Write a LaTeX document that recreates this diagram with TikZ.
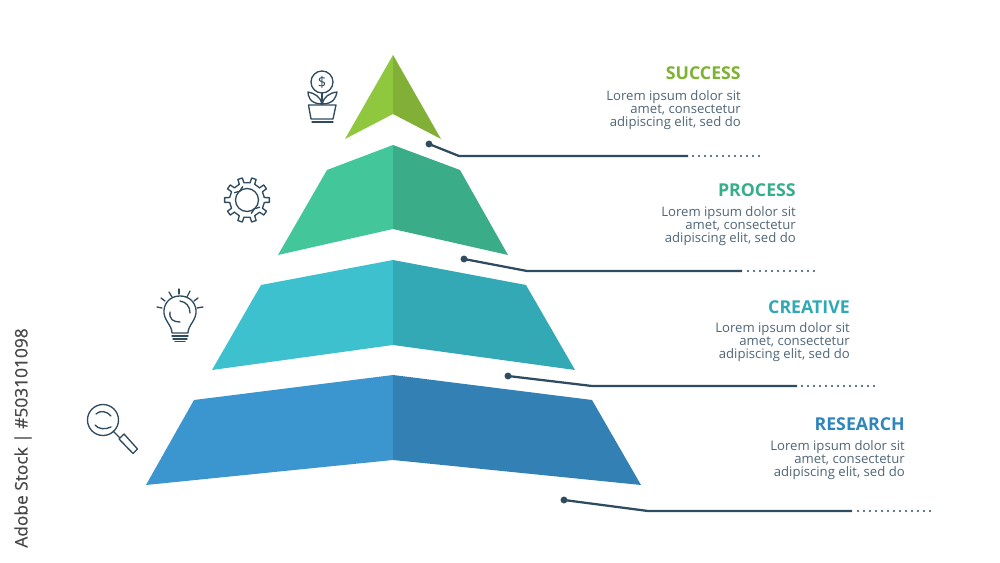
\documentclass[tikz,border=0pt]{standalone}
\usepackage{fontspec}
\setmainfont{Open Sans}
\newfontfamily\sidefont[FakeBold=0.5]{Open Sans}
\definecolor{ink}{HTML}{2F4B5F}
\definecolor{bodyc}{HTML}{4F6677}
\definecolor{gA}{HTML}{8FC73E}\definecolor{gB}{HTML}{82B036}
\definecolor{tA}{HTML}{43C79A}\definecolor{tB}{HTML}{3BAC88}
\definecolor{cA}{HTML}{3DC1CF}\definecolor{cB}{HTML}{32A9B4}
\definecolor{bA}{HTML}{3B96CF}\definecolor{bB}{HTML}{3280B4}
\definecolor{hG}{HTML}{7DB32F}\definecolor{hT}{HTML}{36AE8C}
\definecolor{hC}{HTML}{2FA9B5}\definecolor{hB}{HTML}{2F86BD}
\tikzset{
  lead/.style={draw=ink,line width=1.7pt,line join=round},
  leaddots/.style={draw=ink,line width=1.7pt,line cap=round,dash pattern=on 0pt off 4.5pt},
  pin/.style={circle,fill=ink,inner sep=0pt,minimum size=5.2pt},
  heading/.style={anchor=east,inner sep=0pt,font=\fontsize{13.3}{15}\selectfont\bfseries},
  bodytext/.style={anchor=north east,inner sep=0pt,align=right,text=bodyc,font=\fontsize{9.85}{9.75}\selectfont},
  icon/.style={draw=ink,line width=1pt,line cap=round,line join=round,fill=none},
}
\newcommand{\lorem}{Lorem ipsum dolor sit\\amet, consectetur\\adipiscing elit, sed do}
\begin{document}
\begin{tikzpicture}[x=.75pt,y=-.75pt]
\useasboundingbox (0,0) rectangle (1000,563);
\fill[white] (0,0) rectangle (1000,563);
% pyramid
\fill[gA] (393,55)--(345,139)--(393,114)--cycle;
\fill[gB] (393,55)--(441,139)--(393,114)--cycle;
\fill[tA] (393,145)--(327,170)--(278,255)--(393,229)--cycle;
\fill[tB] (393,145)--(460,170)--(508,255)--(393,229)--cycle;
\fill[cA] (393,260)--(261,285)--(212,370)--(393,345)--cycle;
\fill[cB] (393,260)--(526,285)--(575,370)--(393,345)--cycle;
\fill[bA] (393,375)--(194,400)--(146,485)--(393,460)--cycle;
\fill[bB] (393,375)--(592,400)--(641,485)--(393,460)--cycle;
% leaders
\node[pin] (p1) at (429,144) {};
\coordinate (k1) at (459,156); \coordinate (e1) at (688,156); \coordinate (d1) at (693,156); \coordinate (f1) at (761,156);
\node[pin] (p2) at (464,259) {};
\coordinate (k2) at (527,271); \coordinate (e2) at (742,271); \coordinate (d2) at (748,271); \coordinate (f2) at (815,271);
\node[pin] (p3) at (508,376) {};
\coordinate (k3) at (592,386); \coordinate (e3) at (797,386); \coordinate (d3) at (802,386); \coordinate (f3) at (875,386);
\node[pin] (p4) at (564,500) {};
\coordinate (k4) at (648,511); \coordinate (e4) at (852,511); \coordinate (d4) at (858,511); \coordinate (f4) at (931,511);
\foreach \i in {1,2,3,4}{
  \draw[lead] (p\i.center)--(k\i)--(e\i);
  \draw[leaddots] (d\i)--(f\i);
}
% texts
\node[heading,text=hG] (t1) at (741,73) {SUCCESS};
\node[bodytext] (b1) at (741,90) {\lorem};
\node[heading,text=hT] (t2) at (796,190) {PROCESS};
\node[bodytext] (b2) at (796,206.5) {\lorem};
\node[heading,text=hC] (t3) at (850,307) {CREATIVE};
\node[bodytext] (b3) at (850,322.5) {\lorem};
\node[heading,text=hB] (t4) at (905,424) {RESEARCH};
\node[bodytext] (b4) at (905,440) {\lorem};
% plant icon
\begin{scope}[icon]
\draw (322,82) circle (11);
\node[inner sep=0pt,text=ink,font=\fontsize{11}{11}\selectfont] (dollar) at (322,82) {\$};
\draw (322,93)--(322,104);
\draw (322,104) .. controls (309,104) and (308,95) .. (308,92) .. controls (314,93) and (321,97) .. (322,104);
\draw (322,104) .. controls (334,104) and (336,97) .. (337,92) .. controls (329,93) and (324,97) .. (322,104);
\draw (308.5,105)--(336,105)--(333,119)--(311,119)--cycle;
\draw (312,122)--(333,122);
\end{scope}
% gear icon
\begin{scope}[shift={(247,200)},icon]
\foreach \a in {0,36,...,324}{
  \draw (\a-8:17.5)--(\a-6:22.5)--(\a+6:22.5)--(\a+8:17.5)--(\a+28:17.5);
}
\draw (0,0) circle (11.5);
\draw (-150:14.5)--(-130:11.5)--(-108:14);
\draw (30:14.5)--(50:11.5)--(72:14);
\end{scope}
% bulb icon
\begin{scope}[icon]
\draw (172,333) .. controls (172,325) and (163,320) .. (164,310) .. controls (165,301) and (172,296) .. (180,296) .. controls (188,296) and (195,301) .. (196,310) .. controls (197,320) and (188,325) .. (188,333) -- cycle;
\draw (172,336)--(188,336); \draw (173,339)--(187,339); \draw (175,341.5)--(185,341.5);
\draw (179,289)--(179,294);
\draw (169,292)--(172,297); \draw (190,291)--(187,297);
\draw (161,298)--(165,301); \draw (198,298)--(194,301);
\draw (157,307)--(162,308); \draw (203,307)--(197,308);
\draw (180,301) .. controls (186,302) and (190,306) .. (190,313);
\draw (170,312) .. controls (169,319) and (173,322) .. (180,322);
\end{scope}
% magnifier icon
\begin{scope}[icon]
\draw (103,420) circle (15.5);
\draw (96,414) .. controls (100,410) and (107,411) .. (111,416);
\draw (95,425) .. controls (98,429) and (105,430) .. (111,427);
\draw (113,431)--(120,438);
\draw (119,439)--(124,434)--(137.5,449)--(133,453.5)--cycle;
\end{scope}
% side text
\node[rotate=90,inner sep=0pt,text=black!72,font=\sidefont\fontsize{13}{14}\selectfont] (side) at (23,438) {Adobe Stock | \#503101098};
\end{tikzpicture}
\end{document}
